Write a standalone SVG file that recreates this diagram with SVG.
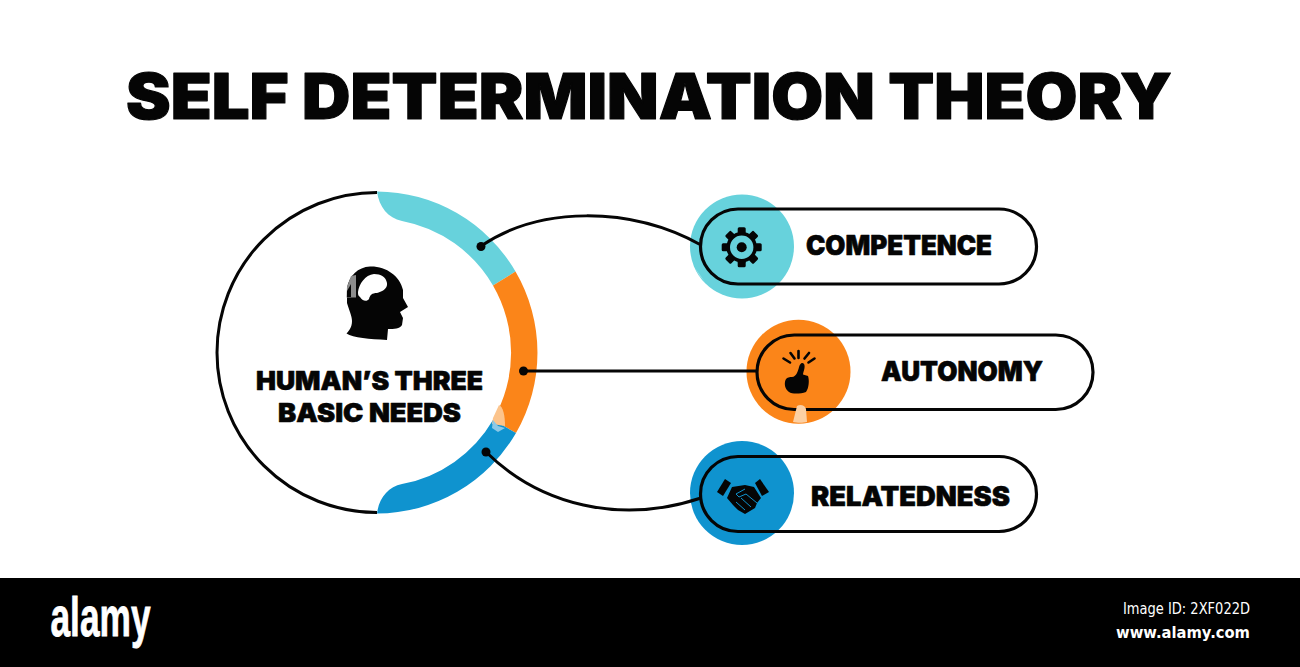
<svg xmlns="http://www.w3.org/2000/svg" width="1300" height="667" viewBox="0 0 1300 667">
<style>
.h{font-family:Inter,"Liberation Sans",sans-serif;font-weight:900;fill:#050505;stroke:#050505;stroke-linejoin:round}
.l{font-size:27px;stroke-width:.6px}
.ln{fill:none;stroke:#050505;stroke-width:3}
.pill{fill:none;stroke:#050505;stroke-width:3.2}
.ic{fill:#050505}
.ray{stroke:#050505;stroke-width:2.6;fill:none;stroke-linecap:round}
.w{fill:#fff;font-family:"DejaVu Sans",sans-serif}
</style>
<rect width="1300" height="667" fill="#fff"/>
<text id="title" class="h" x="126" y="118.500" font-size="63" stroke-width="1.2" textLength="1046" lengthAdjust="spacingAndGlyphs">SELF DETERMINATION THEORY</text>

<g id="main">
<path d="M377 192.500A160 160 0 0 0 377 512.500" fill="none" stroke="#050505" stroke-width="3"/>
<path d="M377 191.500A161 161 0 0 1 515.500 271.500L493 285.500A134 134 0 0 0 402 221C388 218 379 207 377 191.500Z" fill="#67d2dc"/>
<path d="M515.500 271.500A161 161 0 0 1 516 433L493 420A134 134 0 0 0 493 285.500Z" fill="#fb8519"/>
<path d="M516 433A161 161 0 0 1 377 513.500C379 498 388 487 402 484A134 134 0 0 0 493 420Z" fill="#0f93cf"/>
<path d="M499 405C503 407 505 415 505 426L492 424L493 418Z" fill="#fcc48c"/>
<path d="M493 420L498 426L505 428L498 432L492 428Z" fill="#8cc8e6"/>
<g id="head">
<path class="ic" d="M370 266.500C358 267 349 276 347 288L347 303C349 310 352 316 352 321C352 327 349 331 346.500 333.500C353 338 370 339 387 340L388 329C394 329 400 329 402 325L403 318L400 312L408 307L403 298L403 290C400 276 386 266 370 266.500Z"/>
<path fill="#8c8c8c" d="M351 276L356 275V297.500H346.500L347 287Z"/>
<path class="ic" d="M347 291L351 284V297H347Z"/>
<path fill="#fff" d="M358 292C359 284 365 275 374 274C381 274 386 277 387 283C388 289 381 292 377 293C372 293 370 295 369 299C367 302 362 301 360 297C358 296 358 294 358 292Z"/>
</g>
<text class="h" x="369.500" y="389.500" font-size="26" stroke-width=".6" text-anchor="middle" textLength="227" lengthAdjust="spacingAndGlyphs">HUMAN’S THREE</text>
<text class="h" x="369.500" y="421.500" font-size="26" stroke-width=".6" text-anchor="middle" textLength="183" lengthAdjust="spacingAndGlyphs">BASIC NEEDS</text>
</g>

<g id="competence">
<circle cx="742" cy="246.500" r="52" fill="#67d2dc"/>
<path d="M695 268L705 282L699 275Z" fill="#a6e4ea"/>
<rect class="pill" x="700.500" y="209" width="336" height="75" rx="37.500"/>
<g transform="translate(741.700 247.300)">
<circle r="13.500" fill="none" stroke="#050505" stroke-width="3.600"/>
<circle class="ic" r="5"/>
<g class="ic">
<rect x="-4" y="-20" width="8" height="6.500" rx="1.500"/>
<rect x="-4" y="-20" width="8" height="6.500" rx="1.500" transform="rotate(45)"/>
<rect x="-4" y="-20" width="8" height="6.500" rx="1.500" transform="rotate(90)"/>
<rect x="-4" y="-20" width="8" height="6.500" rx="1.500" transform="rotate(135)"/>
<rect x="-4" y="-20" width="8" height="6.500" rx="1.500" transform="rotate(180)"/>
<rect x="-4" y="-20" width="8" height="6.500" rx="1.500" transform="rotate(225)"/>
<rect x="-4" y="-20" width="8" height="6.500" rx="1.500" transform="rotate(270)"/>
<rect x="-4" y="-20" width="8" height="6.500" rx="1.500" transform="rotate(315)"/>
</g>
</g>
<text class="h l" x="806" y="254.500" textLength="186" lengthAdjust="spacingAndGlyphs">COMPETENCE</text>
</g>

<g id="autonomy">
<circle cx="798.500" cy="371.700" r="52" fill="#fb8519"/>
<rect class="pill" x="757" y="335" width="336" height="74.500" rx="37.200"/>
<path d="M793 422L797 406C800 404 805 405 806 409L807 422C803 423 797 423 793 422Z" fill="#fcd0a4"/>
<path class="ic" d="M797 373C799 369 799 365 801 363.500C804 362 805 365 804.500 368C804 371 803 373 803 374.500L808 376C809.500 380 809 388 806 392C800 394 792 394 789 392C785 389 784 384 785.500 380C787 377 790 377 792 377C794 377 796 375 797 373Z"/>
<path class="ray" d="M783.500 358.500L790 362.500M790.500 353L794.500 358.500M798.500 351V358M809 353L804.500 358.500M814.500 358.500L808.500 362.500"/>
<text class="h l" x="881" y="380.500" textLength="162" lengthAdjust="spacingAndGlyphs">AUTONOMY</text>
</g>

<g id="relatedness">
<circle cx="742" cy="493" r="52" fill="#0f93cf"/>
<rect class="pill" x="700.500" y="456.500" width="336" height="75" rx="37.500"/>
<g class="ic">
<path d="M717 492L723 496L731 483L725 479Z"/>
<path d="M755 483L762 496L769 492L760 479Z"/>
<path d="M732 487L745 485L754 487L761 498L757 503L755 508L750 511L745 514L738 510L733 505L727 498Z"/>
</g>
<path d="M745 489L736 494L739 497L746 494L757 503M736 502L745 510M741 498L751 507" fill="none" stroke="#0f93cf" stroke-width="1"/>
<text class="h l" x="811" y="505.500" textLength="199" lengthAdjust="spacingAndGlyphs">RELATEDNESS</text>
</g>

<g id="connectors">
<path class="ln" d="M481 246C540 206 630 206 701 245"/>
<path class="ln" d="M523 371H757"/>
<path class="ln" d="M486 452C540 505 620 525 701 498"/>
<circle class="ic" cx="481" cy="246.500" r="4.500"/>
<circle class="ic" cx="523.500" cy="371" r="4.500"/>
<circle class="ic" cx="486" cy="452" r="4.500"/>
</g>

<g id="footer">
<rect x="0" y="578" width="1300" height="89" fill="#000"/>
<text x="50.500" y="636" font-family="'Liberation Sans',sans-serif" font-weight="700" font-size="56" fill="#fff" stroke="#fff" stroke-width=".8" textLength="100" lengthAdjust="spacingAndGlyphs">alamy</text>
<text class="w" x="1123" y="614" font-size="15" textLength="127" lengthAdjust="spacingAndGlyphs">Image ID: 2XF022D</text>
<text class="w" x="1116" y="638" font-size="15" font-weight="700" textLength="134" lengthAdjust="spacingAndGlyphs">www.alamy.com</text>
</g>
</svg>
